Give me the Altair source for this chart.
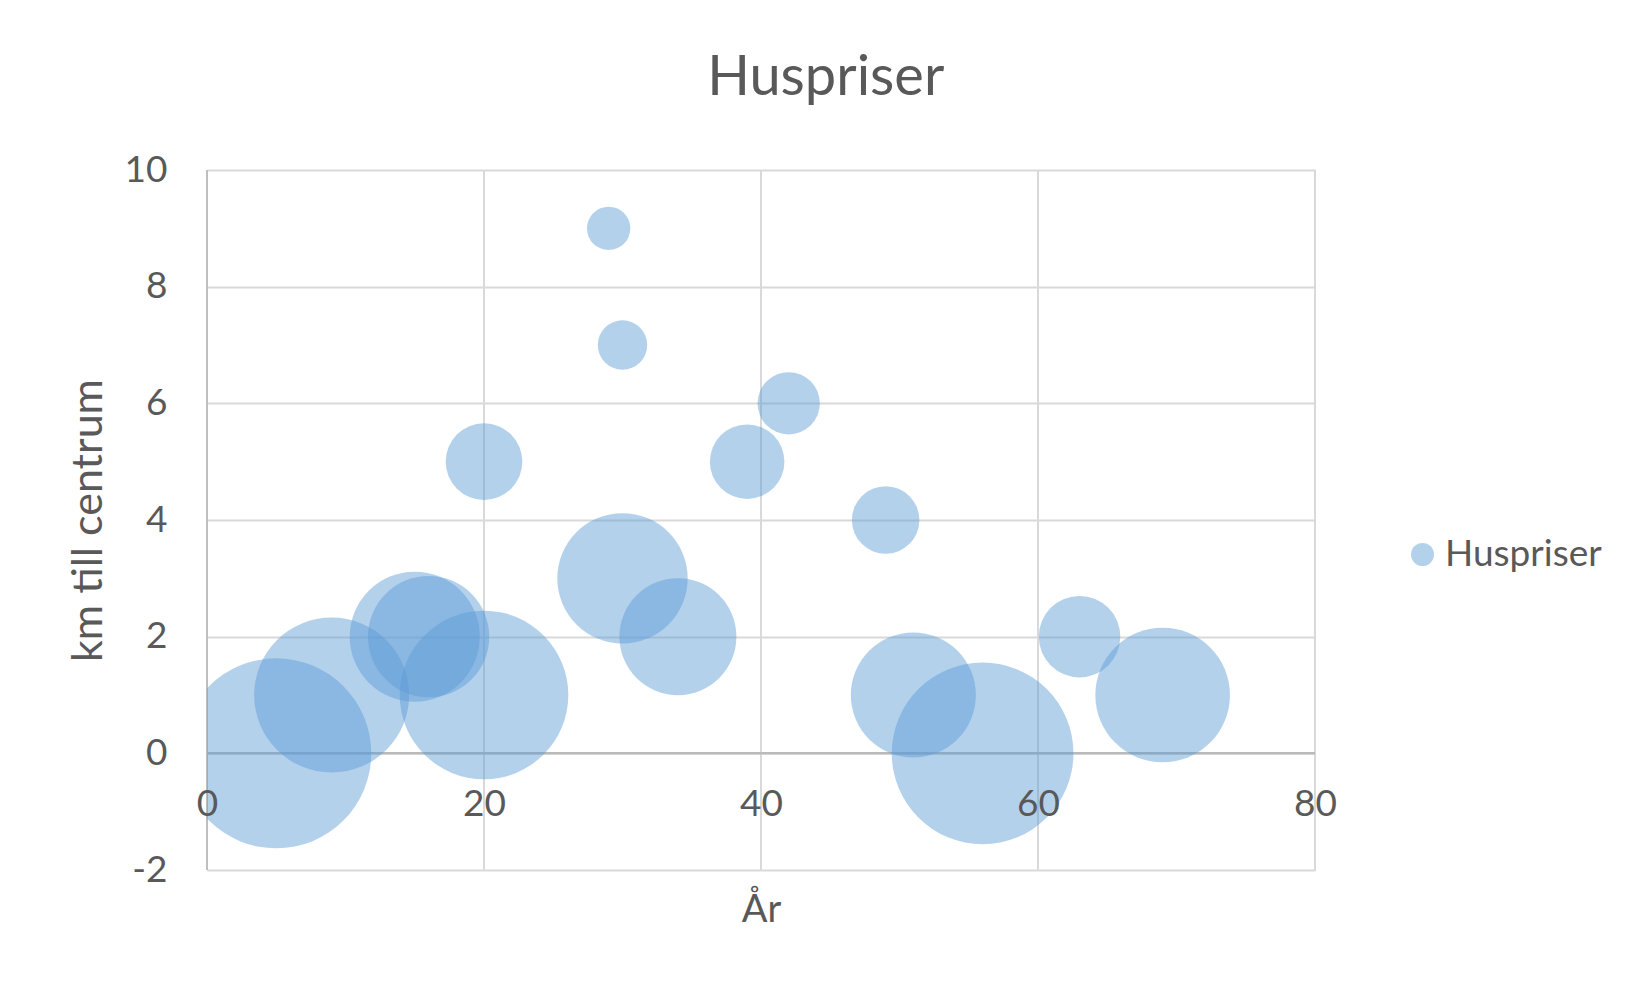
import altair as alt
import pandas as pd

# Data
ar = [5, 9, 15, 16, 20, 20, 29, 30, 30, 34, 39, 42, 49, 51, 56, 63, 69]
km = [0, 1, 2, 2, 1, 5, 9, 7, 3, 2, 5, 6, 4, 1, 0, 2, 1]
storlek = [90.3, 60.1, 42.3, 36.8, 71.1, 14.7, 4.7, 6.1, 42.5, 34.2, 13.9, 9.7, 11.4, 39.1, 82.5, 16.6, 45.3]
serie = ["Huspriser"] * len(ar)

x_ticks = [0, 20, 40, 60, 80]
y_ticks = [-2, 0, 2, 4, 6, 8, 10]
zero_line = [0]

FONT = "Lato"
TXT = "#595959"
BLUE = "#5B9BD5"

df = pd.DataFrame({"År": ar, "km": km, "storlek": storlek, "serie": serie})
grid_df = pd.DataFrame({"År": x_ticks})
zero_df = pd.DataFrame({"km": zero_line})

xscale = alt.Scale(domain=[0, 80], nice=False, zero=False)
yscale = alt.Scale(domain=[-2, 10], nice=False, zero=False)

xaxis = alt.Axis(
    title="År",
    values=x_ticks,
    grid=False,
    domain=False,
    ticks=False,
    tickSize=0,
    offset=-116.7,
    labelPadding=51.5,
    labelBaseline="middle",
    labelFont=FONT,
    labelFontSize=37,
    labelColor=TXT,
    labelFlush=False,
    labelOverlap=False,
    titleFont=FONT,
    titleFontSize=38,
    titleFontWeight="normal",
    titleColor=TXT,
    titleBaseline="alphabetic",
    titleY=168,
    zindex=1,
)

yaxis = alt.Axis(
    title="km till centrum",
    values=y_ticks,
    grid=True,
    gridColor="#d9d9d9",
    gridWidth=2,
    domain=False,
    ticks=False,
    tickSize=0,
    labelPadding=40,
    labelFont=FONT,
    labelFontSize=37,
    labelColor=TXT,
    labelExpr="'' + datum.value",
    labelOverlap=False,
    labelFlush=False,
    titleFont=FONT,
    titleFontSize=43,
    titleFontWeight="normal",
    titleColor=TXT,
    titleBaseline="alphabetic",
    titleX=-105.6,
    zindex=0,
)

vgrid = alt.Chart(grid_df).mark_rule(strokeWidth=2).encode(
    x=alt.X("År:Q", scale=xscale, axis=xaxis),
    color=alt.condition("datum['År'] == 0", alt.value("#bfbfbf"), alt.value("#d9d9d9")),
)

zline = alt.Chart(zero_df).mark_rule(strokeWidth=2.5, color="#bababa").encode(
    y=alt.Y("km:Q", scale=yscale, axis=yaxis),
)

bubbles = alt.Chart(df).mark_circle(opacity=0.46, clip=True, strokeWidth=0).encode(
    x=alt.X("År:Q", scale=xscale, axis=xaxis),
    y=alt.Y("km:Q", scale=yscale, axis=yaxis),
    size=alt.Size(
        "storlek:Q",
        scale=alt.Scale(type="linear", domain=[0, 100], range=[0, 40000], zero=True),
        legend=None,
    ),
    color=alt.Color(
        "serie:N",
        scale=alt.Scale(range=[BLUE]),
        legend=alt.Legend(
            title=None,
            orient="none",
            legendX=1197,
            legendY=366,
            padding=0,
            symbolType="circle",
            symbolSize=529,
            symbolOpacity=0.46,
            symbolStrokeWidth=0,
            labelFont=FONT,
            labelFontSize=37,
            labelColor=TXT,
            labelOffset=4,
        ),
    ),
)

chart = (
    alt.layer(vgrid, zline, bubbles)
    .properties(
        width=1108,
        height=700,
        padding={"left": 199, "top": 162, "right": 320, "bottom": 100},
        autosize=alt.AutoSizeParams(type="none"),
        title=alt.TitleParams(
            text="Huspriser",
            font=FONT,
            fontSize=56,
            fontWeight="normal",
            color=TXT,
            anchor="middle",
            frame="group",
            dx=64.7,
            baseline="alphabetic",
            offset=0,
        ),
    )
    .configure_view(stroke=None)
    .configure(background="white")
)

chart.save("out.html", embed_options={"renderer": "svg", "actions": False})
